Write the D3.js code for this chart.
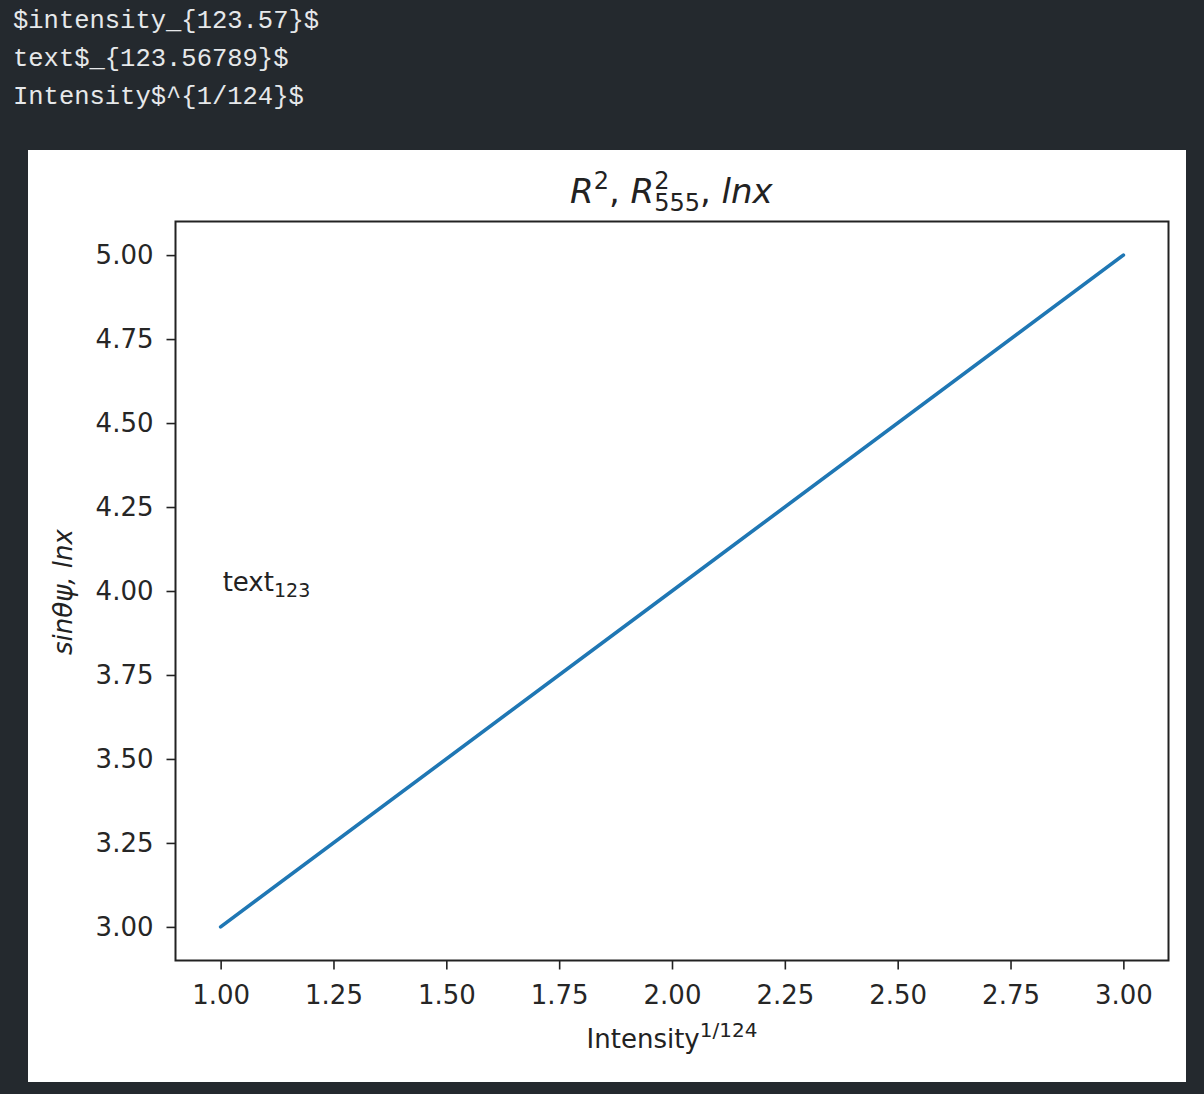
<!DOCTYPE html>
<html>
<head>
<meta charset="utf-8">
<script src="https://cdn.jsdelivr.net/npm/d3@7"></script>
<style>
  body { margin: 0; background: #24292e; }
  svg { display: block; }
</style>
</head>
<body>
<div id="chart"></div>
<script>
// notebook-ish page: code lines on dark bg, then the figure on white

const width = 1204;
const height = 1094;
const margin = {left: 175.5, right: 1204 - 1168.5, top: 221.5, bottom: 1094 - 960.5};

// data
const codeLines = ["$intensity_{123.57}$", "text$_{123.56789}$", "Intensity$^{1/124}$"];
const xValues = [1, 2, 3];
const yValues = [3, 4, 5];
const xTicks = [1.00, 1.25, 1.50, 1.75, 2.00, 2.25, 2.50, 2.75, 3.00];
const yTicks = [3.00, 3.25, 3.50, 3.75, 4.00, 4.25, 4.50, 4.75, 5.00];
const annotation = {x: 1, y: 4, text: "text", sub: "123"};

const svg = d3.select("#chart")
  .append("svg")
  .attr("width", width)
  .attr("height", height)
  .attr("font-family", "'DejaVu Sans', sans-serif");

// code text on top
svg.selectAll(".code")
  .data(codeLines)
  .enter()
  .append("text")
    .attr("class", "code")
    .attr("x", 13)
    .attr("y", (d, i) => 28 + i * 38)
    .attr("font-family", "'Liberation Mono', monospace")
    .attr("font-size", "25.5px")
    .attr("fill", "#e6e8ea")
    .text(d => d);

// white figure background
svg.append("rect")
  .attr("x", 28).attr("y", 150)
  .attr("width", 1158).attr("height", 932)
  .attr("fill", "#ffffff");

// scales (matplotlib style 5% margins)
let xScale = d3.scaleLinear()
  .domain([0.9, 3.1])
  .range([margin.left, width - margin.right]);

let yScale = d3.scaleLinear()
  .domain([2.9, 5.1])
  .range([height - margin.bottom, margin.top]);

// axes
const xAxis = svg.append("g")
  .attr("transform", `translate(0,${height - margin.bottom})`)
  .call(d3.axisBottom(xScale).tickValues(xTicks).tickFormat(d3.format(".2f"))
    .tickSize(9).tickPadding(16));

const yAxis = svg.append("g")
  .attr("transform", `translate(${margin.left},0)`)
  .call(d3.axisLeft(yScale).tickValues(yTicks).tickFormat(d3.format(".2f"))
    .tickSize(9).tickPadding(13));

[xAxis, yAxis].forEach(g => {
  g.select(".domain").remove();
  g.selectAll(".tick line").attr("stroke", "#222").attr("stroke-width", 1.6);
  g.selectAll(".tick text")
    .attr("font-family", "'DejaVu Sans', sans-serif")
    .attr("font-size", "26px")
    .attr("fill", "#262626");
});

// the line
svg.append("path")
  .datum(xValues.map((x, i) => [x, yValues[i]]))
  .attr("fill", "none")
  .attr("stroke", "#1f77b4")
  .attr("stroke-width", 3.6)
  .attr("stroke-linecap", "round")
  .attr("d", d3.line().x(d => xScale(d[0])).y(d => yScale(d[1])));

// frame
svg.append("rect")
  .attr("x", margin.left).attr("y", margin.top)
  .attr("width", width - margin.left - margin.right)
  .attr("height", height - margin.top - margin.bottom)
  .attr("fill", "none")
  .attr("stroke", "#222")
  .attr("stroke-width", 2);

// title  R^2, R^2_555, lnx
const titleSize = 34;
const title = svg.append("text")
  .attr("x", 570)
  .attr("y", 203)
  .attr("font-size", titleSize + "px")
  .attr("fill", "#222");
title.append("tspan").attr("font-style", "italic").text("R");
title.append("tspan").attr("font-size", "24px").attr("dy", -14).text("2");
title.append("tspan").attr("dy", 14).text(", ");
title.append("tspan").attr("font-style", "italic").text("R");
const sup2 = title.append("tspan").attr("font-size", "24px").attr("dy", -14).text("2");
const sub555 = title.append("tspan").attr("font-size", "24px").attr("dy", 22).text("555");
title.append("tspan").attr("dy", -8).text(", ");
title.append("tspan").attr("font-style", "italic").text("lnx");
// stack subscript under superscript
sub555.attr("dx", -sup2.node().getComputedTextLength());

// x label  Intensity^{1/124}
const xLabel = svg.append("text")
  .attr("x", 672)
  .attr("y", 1048)
  .attr("text-anchor", "middle")
  .attr("font-size", "26px")
  .attr("fill", "#222");
xLabel.append("tspan").text("Intensity");
xLabel.append("tspan").attr("font-size", "20px").attr("dy", -11).text("1/124");

// y label
svg.append("text")
  .attr("transform", "translate(72,592) rotate(-90)")
  .attr("text-anchor", "middle")
  .attr("font-size", "26px")
  .attr("font-style", "italic")
  .attr("fill", "#222")
  .text("sinθψ, lnx");

// annotation text_123 at data point (1, 4)
const ann = svg.append("text")
  .attr("x", xScale(annotation.x) + 2)
  .attr("y", yScale(annotation.y))
  .attr("font-size", "26px")
  .attr("fill", "#222");
ann.append("tspan").text(annotation.text);
ann.append("tspan").attr("font-size", "19px").attr("dy", 6).text(annotation.sub);
</script>
</body>
</html>
